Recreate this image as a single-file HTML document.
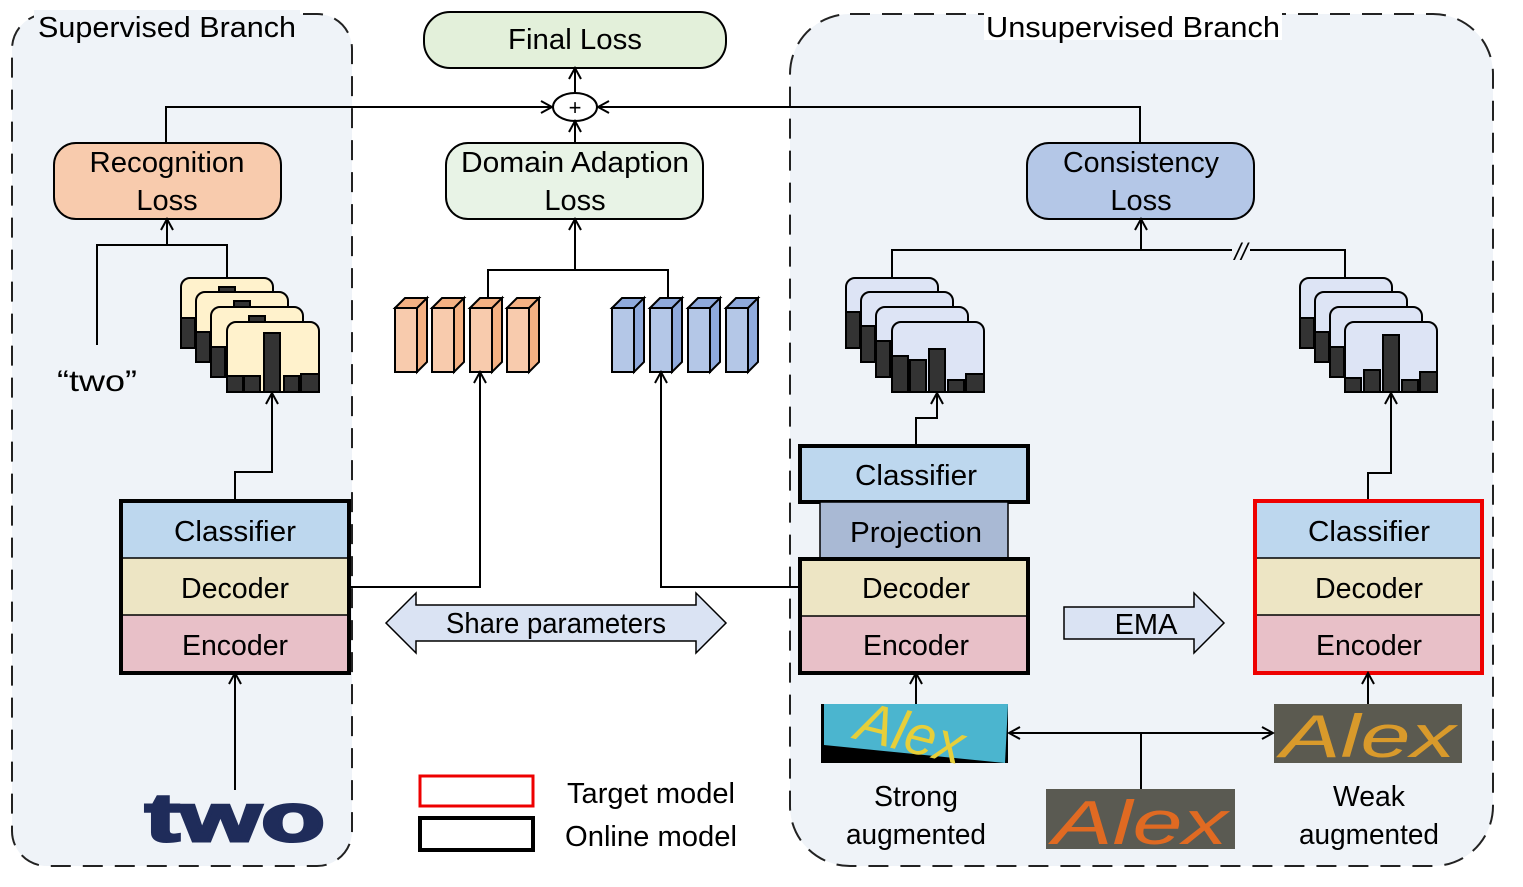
<!DOCTYPE html>
<html><head><meta charset="utf-8"><style>
html,body{margin:0;padding:0;background:#fff;}
svg{display:block;font-family:"Liberation Sans",sans-serif;}
</style></head><body>
<svg width="1523" height="887" viewBox="0 0 1523 887" xmlns="http://www.w3.org/2000/svg">
<defs>
<marker id="ah" markerWidth="14" markerHeight="14" refX="12" refY="7" orient="auto" markerUnits="userSpaceOnUse">
<path d="M1,1 L12,7 L1,13" fill="none" stroke="#000" stroke-width="2"/></marker>
</defs>
<!-- panels -->
<rect x="12" y="14" width="340" height="852" rx="35" fill="#eff3f8" stroke="#222" stroke-width="2" stroke-dasharray="20,12"/>
<rect x="790" y="14" width="703" height="852" rx="60" fill="#eff3f8" stroke="#222" stroke-width="2" stroke-dasharray="20,12"/>
<rect x="34" y="10" width="266" height="30" fill="#eff3f8"/>
<text x="38" y="37" font-size="29" textLength="258" lengthAdjust="spacingAndGlyphs">Supervised Branch</text>
<rect x="984" y="10" width="298" height="30" fill="#fff"/>
<text x="986" y="37" font-size="29" textLength="294" lengthAdjust="spacingAndGlyphs">Unsupervised Branch</text>

<!-- top losses -->
<rect x="424" y="12" width="302" height="56" rx="26" fill="#e3f0da" stroke="#000" stroke-width="2"/>
<text x="575" y="49" font-size="29" text-anchor="middle" textLength="134" lengthAdjust="spacingAndGlyphs">Final Loss</text>
<path d="M166,143 V107 H553 M597,107 H1140 V143" fill="none" stroke="#000" stroke-width="2"/>
<line x1="166" y1="107" x2="552" y2="107" stroke="#000" stroke-width="2" marker-end="url(#ah)"/>
<line x1="1140" y1="107" x2="598" y2="107" stroke="#000" stroke-width="2" marker-end="url(#ah)"/>
<ellipse cx="575" cy="107" rx="22" ry="14" fill="#fff" stroke="#000" stroke-width="2"/>
<text x="575" y="115" font-size="22" text-anchor="middle">+</text>
<line x1="575" y1="93" x2="575" y2="68" stroke="#000" stroke-width="2" marker-end="url(#ah)"/>
<line x1="575" y1="143" x2="575" y2="121" stroke="#000" stroke-width="2" marker-end="url(#ah)"/>

<rect x="54" y="143" width="227" height="76" rx="22" fill="#f8cbad" stroke="#000" stroke-width="2"/>
<text x="167" y="172" font-size="29" text-anchor="middle" textLength="155" lengthAdjust="spacingAndGlyphs">Recognition</text>
<text x="167" y="210" font-size="29" text-anchor="middle">Loss</text>
<rect x="446" y="143" width="257" height="76" rx="22" fill="#e8f3e6" stroke="#000" stroke-width="2"/>
<text x="575" y="172" font-size="29" text-anchor="middle" textLength="228" lengthAdjust="spacingAndGlyphs">Domain Adaption</text>
<text x="575" y="210" font-size="29" text-anchor="middle">Loss</text>
<rect x="1027" y="143" width="227" height="76" rx="22" fill="#b4c7e7" stroke="#000" stroke-width="2"/>
<text x="1141" y="172" font-size="29" text-anchor="middle" textLength="156" lengthAdjust="spacingAndGlyphs">Consistency</text>
<text x="1141" y="210" font-size="29" text-anchor="middle">Loss</text>

<!-- left branch connectors -->
<path d="M97,345 V245 H227 V278" fill="none" stroke="#000" stroke-width="2"/>
<line x1="167" y1="245" x2="167" y2="219" stroke="#000" stroke-width="2" marker-end="url(#ah)"/>
<text x="97" y="391" font-size="30" text-anchor="middle" textLength="80" lengthAdjust="spacingAndGlyphs">“two”</text>

<!-- left hist stack -->
<g stroke="#000" stroke-width="2">
<rect x="181" y="278" width="92" height="70" rx="9" fill="#fff2cc"/><rect x="181" y="318" width="14" height="30" fill="#333"/><rect x="219" y="287" width="16" height="8" fill="#333"/>
<rect x="196" y="292" width="92" height="70" rx="9" fill="#fff2cc"/><rect x="196" y="332" width="14" height="30" fill="#333"/><rect x="234" y="301" width="16" height="8" fill="#333"/>
<rect x="211" y="307" width="92" height="70" rx="9" fill="#fff2cc"/><rect x="211" y="347" width="14" height="30" fill="#333"/><rect x="249" y="316" width="16" height="8" fill="#333"/>
<rect x="227" y="322" width="92" height="70" rx="9" fill="#fff2cc"/>
<rect x="227" y="376" width="16" height="16" fill="#333"/><rect x="244" y="376" width="16" height="16" fill="#333"/><rect x="264" y="333" width="16" height="59" fill="#333"/><rect x="284" y="376" width="15" height="16" fill="#333"/><rect x="301" y="374" width="18" height="18" fill="#333"/>
</g>
<path d="M235,501 V472 H272 V395" fill="none" stroke="#000" stroke-width="2"/>
<line x1="272" y1="420" x2="272" y2="393" stroke="#000" stroke-width="2" marker-end="url(#ah)"/>

<!-- left model -->
<rect x="121" y="501" width="228" height="57" fill="#bdd7ee"/>
<rect x="121" y="558" width="228" height="57" fill="#ede5c4"/>
<rect x="121" y="615" width="228" height="58" fill="#e8c0c8"/>
<line x1="121" y1="558" x2="349" y2="558" stroke="#000" stroke-width="1.5"/>
<line x1="121" y1="615" x2="349" y2="615" stroke="#000" stroke-width="1.5"/>
<rect x="121" y="501" width="228" height="172" fill="none" stroke="#000" stroke-width="4"/>
<text x="235" y="541" font-size="29" text-anchor="middle" textLength="122" lengthAdjust="spacingAndGlyphs">Classifier</text>
<text x="235" y="598" font-size="29" text-anchor="middle" textLength="108" lengthAdjust="spacingAndGlyphs">Decoder</text>
<text x="235" y="655" font-size="29" text-anchor="middle" textLength="106" lengthAdjust="spacingAndGlyphs">Encoder</text>
<line x1="235" y1="790" x2="235" y2="673" stroke="#000" stroke-width="2" marker-end="url(#ah)"/>
<text x="235" y="841" font-size="68" font-weight="bold" fill="#1f2c5a" text-anchor="middle" textLength="180" lengthAdjust="spacingAndGlyphs" stroke="#1f2c5a" stroke-width="3">two</text>

<!-- feature blocks -->
<g stroke="#000" stroke-width="2">
<path d="M395,308 l10,-10 h22 l-10,10 z M417,308 l10,-10 v64 l-10,10 z" fill="#f4b183"/><rect x="395" y="308" width="22" height="64" fill="#f8cbad"/>
<path d="M432,308 l10,-10 h22 l-10,10 z M454,308 l10,-10 v64 l-10,10 z" fill="#f4b183"/><rect x="432" y="308" width="22" height="64" fill="#f8cbad"/>
<path d="M470,308 l10,-10 h22 l-10,10 z M492,308 l10,-10 v64 l-10,10 z" fill="#f4b183"/><rect x="470" y="308" width="22" height="64" fill="#f8cbad"/>
<path d="M507,308 l10,-10 h22 l-10,10 z M529,308 l10,-10 v64 l-10,10 z" fill="#f4b183"/><rect x="507" y="308" width="22" height="64" fill="#f8cbad"/>
<path d="M612,308 l10,-10 h22 l-10,10 z M634,308 l10,-10 v64 l-10,10 z" fill="#8faadc"/><rect x="612" y="308" width="22" height="64" fill="#b4c7e7"/>
<path d="M650,308 l10,-10 h22 l-10,10 z M672,308 l10,-10 v64 l-10,10 z" fill="#8faadc"/><rect x="650" y="308" width="22" height="64" fill="#b4c7e7"/>
<path d="M688,308 l10,-10 h22 l-10,10 z M710,308 l10,-10 v64 l-10,10 z" fill="#8faadc"/><rect x="688" y="308" width="22" height="64" fill="#b4c7e7"/>
<path d="M726,308 l10,-10 h22 l-10,10 z M748,308 l10,-10 v64 l-10,10 z" fill="#8faadc"/><rect x="726" y="308" width="22" height="64" fill="#b4c7e7"/>
</g>
<path d="M488,298 V270 H668 V298" fill="none" stroke="#000" stroke-width="2"/>
<line x1="575" y1="270" x2="575" y2="219" stroke="#000" stroke-width="2" marker-end="url(#ah)"/>
<path d="M349,587 H480 V380" fill="none" stroke="#000" stroke-width="2"/>
<line x1="480" y1="400" x2="480" y2="372" stroke="#000" stroke-width="2" marker-end="url(#ah)"/>
<path d="M800,587 H661 V380" fill="none" stroke="#000" stroke-width="2"/>
<line x1="661" y1="400" x2="661" y2="372" stroke="#000" stroke-width="2" marker-end="url(#ah)"/>

<!-- share params arrow -->
<path d="M386,623 L416,593 V605 H696 V593 L726,623 L696,653 V641 H416 V653 Z" fill="#dae3f3" stroke="#000" stroke-width="1.5"/>
<text x="556" y="633" font-size="29" text-anchor="middle" textLength="220" lengthAdjust="spacingAndGlyphs">Share parameters</text>

<!-- EMA arrow -->
<path d="M1064,607 H1194 V593 L1224,623 L1194,653 V639 H1064 Z" fill="#dae3f3" stroke="#000" stroke-width="1.5"/>
<text x="1146" y="634" font-size="29" text-anchor="middle">EMA</text>

<!-- right connectors -->
<path d="M892,278 V250 H1232 M1250,250 H1345 V278" fill="none" stroke="#000" stroke-width="2"/>
<line x1="1141" y1="250" x2="1141" y2="219" stroke="#000" stroke-width="2" marker-end="url(#ah)"/>
<text x="1241" y="260" font-size="24" text-anchor="middle" font-style="italic">//</text>

<!-- right hist stacks -->
<g stroke="#000" stroke-width="2">
<rect x="846" y="278" width="92" height="70" rx="9" fill="#dde4f5"/><rect x="846" y="312" width="14" height="36" fill="#333"/>
<rect x="861" y="292" width="92" height="70" rx="9" fill="#dde4f5"/><rect x="861" y="326" width="14" height="36" fill="#333"/>
<rect x="876" y="307" width="92" height="70" rx="9" fill="#dde4f5"/><rect x="876" y="341" width="14" height="36" fill="#333"/>
<rect x="892" y="322" width="92" height="70" rx="9" fill="#dde4f5"/>
<rect x="892" y="356" width="16" height="36" fill="#333"/><rect x="910" y="360" width="16" height="32" fill="#333"/><rect x="929" y="349" width="16" height="43" fill="#333"/><rect x="948" y="380" width="16" height="12" fill="#333"/><rect x="966" y="374" width="18" height="18" fill="#333"/>
<rect x="1300" y="278" width="92" height="70" rx="9" fill="#dde4f5"/><rect x="1300" y="318" width="14" height="30" fill="#333"/>
<rect x="1315" y="292" width="92" height="70" rx="9" fill="#dde4f5"/><rect x="1315" y="332" width="14" height="30" fill="#333"/>
<rect x="1330" y="307" width="92" height="70" rx="9" fill="#dde4f5"/><rect x="1330" y="347" width="14" height="30" fill="#333"/>
<rect x="1345" y="322" width="92" height="70" rx="9" fill="#dde4f5"/>
<rect x="1345" y="378" width="16" height="14" fill="#333"/><rect x="1364" y="370" width="16" height="22" fill="#333"/><rect x="1383" y="335" width="16" height="57" fill="#333"/><rect x="1402" y="380" width="16" height="12" fill="#333"/><rect x="1420" y="372" width="17" height="20" fill="#333"/>
</g>
<path d="M916,446 V418 H937 V400" fill="none" stroke="#000" stroke-width="2"/>
<line x1="937" y1="418" x2="937" y2="393" stroke="#000" stroke-width="2" marker-end="url(#ah)"/>
<path d="M1368,501 V473 H1391 V400" fill="none" stroke="#000" stroke-width="2"/>
<line x1="1391" y1="420" x2="1391" y2="393" stroke="#000" stroke-width="2" marker-end="url(#ah)"/>

<!-- online model right -->
<rect x="800" y="446" width="228" height="56" fill="#bdd7ee" stroke="#000" stroke-width="4"/>
<text x="916" y="485" font-size="29" text-anchor="middle" textLength="122" lengthAdjust="spacingAndGlyphs">Classifier</text>
<rect x="820" y="502" width="188" height="57" fill="#a9b9d4" stroke="#000" stroke-width="1.5"/>
<text x="916" y="542" font-size="29" text-anchor="middle" textLength="132" lengthAdjust="spacingAndGlyphs">Projection</text>
<rect x="800" y="559" width="228" height="57" fill="#ede5c4"/>
<rect x="800" y="616" width="228" height="57" fill="#e8c0c8"/>
<line x1="800" y1="616" x2="1028" y2="616" stroke="#000" stroke-width="1.5"/>
<rect x="800" y="559" width="228" height="114" fill="none" stroke="#000" stroke-width="4"/>
<text x="916" y="598" font-size="29" text-anchor="middle" textLength="108" lengthAdjust="spacingAndGlyphs">Decoder</text>
<text x="916" y="655" font-size="29" text-anchor="middle" textLength="106" lengthAdjust="spacingAndGlyphs">Encoder</text>

<!-- target model -->
<rect x="1255" y="501" width="227" height="57" fill="#bdd7ee"/>
<rect x="1255" y="558" width="227" height="57" fill="#ede5c4"/>
<rect x="1255" y="615" width="227" height="58" fill="#e8c0c8"/>
<line x1="1255" y1="558" x2="1482" y2="558" stroke="#000" stroke-width="1.5"/>
<line x1="1255" y1="615" x2="1482" y2="615" stroke="#000" stroke-width="1.5"/>
<rect x="1255" y="501" width="227" height="172" fill="none" stroke="#e00" stroke-width="4"/>
<text x="1369" y="541" font-size="29" text-anchor="middle" textLength="122" lengthAdjust="spacingAndGlyphs">Classifier</text>
<text x="1369" y="598" font-size="29" text-anchor="middle" textLength="108" lengthAdjust="spacingAndGlyphs">Decoder</text>
<text x="1369" y="655" font-size="29" text-anchor="middle" textLength="106" lengthAdjust="spacingAndGlyphs">Encoder</text>

<!-- images -->
<rect x="821" y="704" width="187" height="59" fill="#000"/>
<polygon points="824,704 1008,704 1005,763 824,745" fill="#4bb5cf"/>
<text x="910" y="752" font-size="56" font-style="italic" fill="#e6cf3a" text-anchor="middle" transform="rotate(14 910 735)">Alex</text>
<rect x="1274" y="704" width="188" height="59" fill="#5b5a50"/>
<text x="1368" y="757" font-size="60" font-style="italic" fill="#d99a2b" text-anchor="middle" textLength="175" lengthAdjust="spacingAndGlyphs">Alex</text>
<rect x="1046" y="789" width="189" height="60" fill="#5a5a52"/>
<text x="1140" y="844" font-size="62" font-style="italic" fill="#e06a22" text-anchor="middle" textLength="175" lengthAdjust="spacingAndGlyphs">Alex</text>
<line x1="1141" y1="789" x2="1141" y2="733" stroke="#000" stroke-width="2"/>
<line x1="1141" y1="733" x2="1009" y2="733" stroke="#000" stroke-width="2" marker-end="url(#ah)"/>
<line x1="1141" y1="733" x2="1273" y2="733" stroke="#000" stroke-width="2" marker-end="url(#ah)"/>
<line x1="916" y1="704" x2="916" y2="673" stroke="#000" stroke-width="2" marker-end="url(#ah)"/>
<line x1="1368" y1="704" x2="1368" y2="673" stroke="#000" stroke-width="2" marker-end="url(#ah)"/>
<text x="916" y="806" font-size="29" text-anchor="middle" textLength="84" lengthAdjust="spacingAndGlyphs">Strong</text>
<text x="916" y="844" font-size="29" text-anchor="middle" textLength="140" lengthAdjust="spacingAndGlyphs">augmented</text>
<text x="1369" y="806" font-size="29" text-anchor="middle" textLength="72" lengthAdjust="spacingAndGlyphs">Weak</text>
<text x="1369" y="844" font-size="29" text-anchor="middle" textLength="140" lengthAdjust="spacingAndGlyphs">augmented</text>

<!-- legend -->
<rect x="420" y="776" width="113" height="30" fill="none" stroke="#e00" stroke-width="3"/>
<rect x="420" y="818" width="113" height="32" fill="none" stroke="#000" stroke-width="4"/>
<text x="567" y="803" font-size="29" textLength="168" lengthAdjust="spacingAndGlyphs">Target model</text>
<text x="565" y="846" font-size="29" textLength="172" lengthAdjust="spacingAndGlyphs">Online model</text>
</svg>
</body></html>
